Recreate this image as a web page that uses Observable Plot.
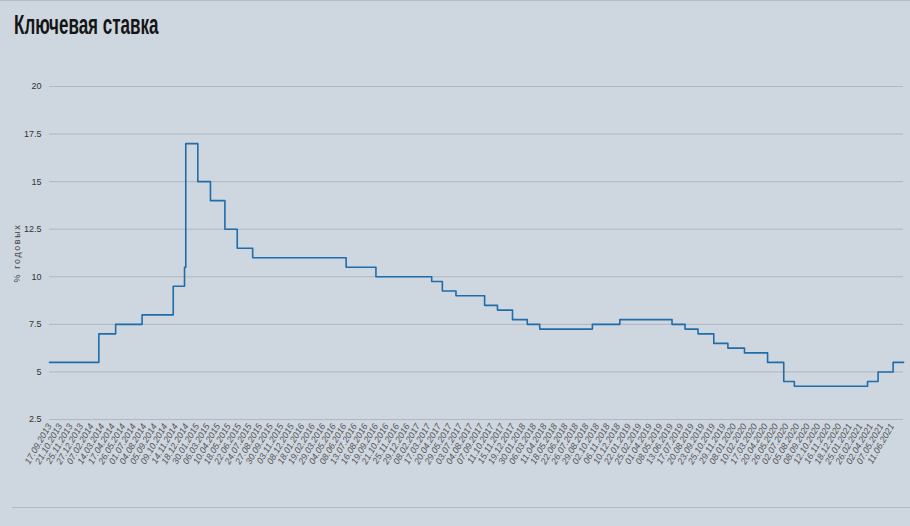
<!DOCTYPE html>
<html>
<head>
<meta charset="utf-8">
<script src="https://cdn.jsdelivr.net/npm/d3@7"></script>
<script src="https://cdn.jsdelivr.net/npm/@observablehq/plot@0.6"></script>
<style>
  html, body { margin: 0; padding: 0; }
  body { width: 910px; height: 526px; background: #ced6df; position: relative; overflow: hidden;
         font-family: "Liberation Sans", sans-serif; }
  #topline { position: absolute; left: 0; top: 0; width: 910px; height: 1px; background: #b3bcc7; }
  #title { position: absolute; left: 14px; top: 10px; font-size: 27px; font-weight: bold; color: #151515;
           font-family: "Liberation Sans", sans-serif; white-space: nowrap;
           transform: scaleX(0.63); transform-origin: 0 0; }
  #chart { position: absolute; left: 0; top: 48px; }
  #bottomline { position: absolute; left: 12px; top: 507px; width: 898px; height: 1px; background: #b0b9c4; }
</style>
</head>
<body>
<div id="topline"></div>
<div id="title">Ключевая ставка</div>
<div id="chart"></div>
<div id="bottomline"></div>
<script>
const rateDates = ["17.09.2013","03.03.2014","28.04.2014","28.07.2014","05.11.2014","12.12.2014","16.12.2014",
  "02.02.2015","16.03.2015","05.05.2015","16.06.2015","03.08.2015","14.06.2016","19.09.2016",
  "27.03.2017","02.05.2017","19.06.2017","18.09.2017","30.10.2017","18.12.2017","12.02.2018","26.03.2018",
  "17.09.2018","17.12.2018","17.06.2019","29.07.2019","09.09.2019","28.10.2019","16.12.2019",
  "10.02.2020","27.04.2020","22.06.2020","27.07.2020","22.03.2021","26.04.2021","15.06.2021","19.07.2021"];
const rateValues = [5.5,7.0,7.5,8.0,9.5,10.5,17.0,
  15.0,14.0,12.5,11.5,11.0,10.5,10.0,
  9.75,9.25,9.0,8.5,8.25,7.75,7.5,7.25,
  7.5,7.75,7.5,7.25,7.0,6.5,6.25,
  6.0,5.5,4.5,4.25,4.5,5.0,5.5,5.5];
// tick labels are every 24 trading days, equally spaced along the axis
const tickLabels = ["17.09.2013","21.10.2013","25.11.2013","27.12.2013","07.02.2014","14.03.2014","17.04.2014",
  "26.05.2014","01.07.2014","04.08.2014","05.09.2014","09.10.2014","14.11.2014","18.12.2014","30.01.2015",
  "06.03.2015","10.04.2015","18.05.2015","22.06.2015","24.07.2015","27.08.2015","30.09.2015","03.11.2015",
  "08.12.2015","18.01.2016","19.02.2016","29.03.2016","04.05.2016","08.06.2016","13.07.2016","16.08.2016",
  "19.09.2016","21.10.2016","25.11.2016","29.12.2016","08.02.2017","17.03.2017","20.04.2017","29.05.2017",
  "03.07.2017","04.08.2017","07.09.2017","11.10.2017","15.11.2017","19.12.2017","30.01.2018","06.03.2018",
  "11.04.2018","18.05.2018","22.06.2018","26.07.2018","29.08.2018","02.10.2018","06.11.2018","10.12.2018",
  "22.01.2019","25.02.2019","01.04.2019","08.05.2019","13.06.2019","17.07.2019","20.08.2019","23.09.2019",
  "25.10.2019","29.11.2019","08.01.2020","10.02.2020","17.03.2020","20.04.2020","26.05.2020","02.07.2020",
  "05.08.2020","08.09.2020","12.10.2020","16.11.2020","18.12.2020","25.01.2021","26.02.2021","02.04.2021",
  "07.05.2021","11.06.2021"];
const endLabel = "19.07.2021";
const yTicks = [2.5, 5, 7.5, 10, 12.5, 15, 17.5, 20];

const parse = d3.timeParse("%d.%m.%Y");
const fmt = d3.timeFormat("%d.%m.%Y");
const data = rateDates.map((d, i) => ({date: parse(d), rate: rateValues[i]}));
const xTicks = tickLabels.map(parse);

const W = 910, ML = 49, MR = 7;
const step = 10.53;
const xDomain = [...xTicks, parse(endLabel)];
const xRange = [...xTicks.map((d, i) => ML + i * step), W - MR];

const chart = Plot.plot({
  width: W,
  height: 478,
  marginLeft: ML,
  marginRight: MR,
  marginTop: 38,
  marginBottom: 107,
  style: {background: "transparent", fontFamily: "'Liberation Sans', sans-serif"},
  x: {type: "time", domain: xDomain, range: xRange},
  y: {domain: [2.5, 20]},
  marks: [
    Plot.gridY(yTicks, {stroke: "#aeb7c2", strokeOpacity: 1, strokeWidth: 1}),
    Plot.axisY(yTicks, {tickSize: 0, tickPadding: 8, tickFormat: d => String(d), fontSize: 9, fill: "#333",
      label: null}),
    Plot.text(["% годовых"], {frameAnchor: "left", dx: -32, rotate: -90, fontSize: 9, fill: "#444",
      textAnchor: "middle"}),
    Plot.axisX(xTicks, {tickSize: 0, tickPadding: 5, tickRotate: -60, tickFormat: fmt, fontSize: 9,
      fill: "#555", fontStyle: "italic", label: null}),
    Plot.line(data, {x: "date", y: "rate", curve: "step-after", stroke: "#1f6dab", strokeWidth: 1.6})
  ]
});
// letter spacing for the rotated y label
chart.querySelectorAll("text").forEach(t => { if (t.textContent === "% годовых") t.setAttribute("letter-spacing", "1.6"); });
document.getElementById("chart").appendChild(chart);
</script>
</body>
</html>
